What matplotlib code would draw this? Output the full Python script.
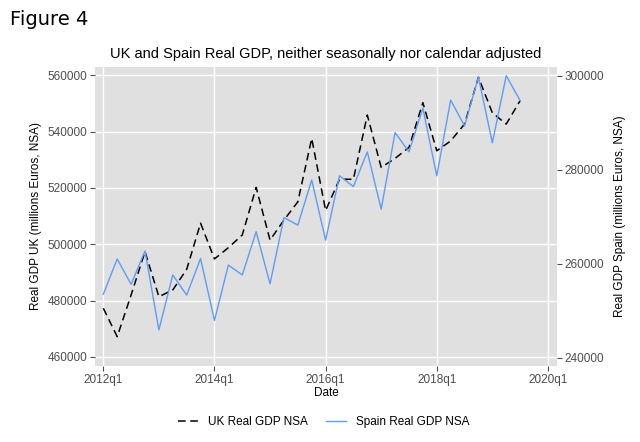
import matplotlib as mpl
import matplotlib.pyplot as plt
import numpy as np

# quarterly data 2012q1 .. 2019q3
start_year = 2012
uk_gdp = [477300, 467200, 482000, 497400, 481400, 483800, 491100, 507500,
          494800, 498800, 503300, 520200, 501500, 508600, 515100, 537600,
          512000, 523100, 523100, 545900, 527300, 530500, 534400, 550300,
          533200, 536700, 542700, 559300, 546700, 542700, 551000]
spain_gdp = [253500, 261000, 255600, 262700, 245900, 257600, 253300, 261100,
             247900, 259700, 257600, 266800, 255700, 269800, 268200, 277800,
             265000, 278700, 276400, 283800, 271600, 287900, 283800, 293100,
             278700, 294800, 289300, 299700, 285700, 300000, 294700]
x_ticks = [2012, 2014, 2016, 2018, 2020]
x_labels = ['2012q1', '2014q1', '2016q1', '2018q1', '2020q1']
uk_ticks = [460000, 480000, 500000, 520000, 540000, 560000]
spain_ticks = [240000, 260000, 280000, 300000]

mpl.rcParams['font.family'] = ['Liberation Sans', 'DejaVu Sans']

TICK_COLOR = '#4d4d4d'
PANEL = '#e0e0e0'
BLUE = '#5f9cf6'

dates = start_year + np.arange(len(uk_gdp)) / 4.0

fig = plt.figure(figsize=(6.4, 4.42), dpi=100)
ax1 = fig.add_axes([0.1484, 0.172, 0.7216, 0.677])
ax2 = ax1.twinx()

ax1.set_facecolor(PANEL)
for s in ax1.spines.values():
    s.set_visible(False)
for s in ax2.spines.values():
    s.set_visible(False)

ax1.grid(True, color='white', linewidth=1.0)
ax1.set_axisbelow(True)

l1, = ax1.plot(dates, uk_gdp, color='black', linestyle=(0, (5, 3)), linewidth=1.1,
               label='UK Real GDP NSA')
l2, = ax2.plot(dates, spain_gdp, color=BLUE, linewidth=1.0, label='Spain Real GDP NSA')

ax1.set_xlim(2012 - 0.15, 2020 + 0.16)
ax1.set_ylim(456800, 563050)
ax2.set_ylim(238230, 301900)

ax1.set_xticks(x_ticks)
ax1.set_xticklabels(x_labels)
ax1.set_yticks(uk_ticks)
ax1.set_yticklabels([str(v) for v in uk_ticks])
ax2.set_yticks(spain_ticks)
ax2.set_yticklabels([str(v) for v in spain_ticks])

for ax in (ax1, ax2):
    ax.tick_params(axis='both', colors=TICK_COLOR, labelsize=8.5, length=3.5,
                   width=0.8, pad=2, labelcolor=TICK_COLOR)

ax1.set_xlabel('Date', fontsize=8.5, labelpad=1)
ax1.set_ylabel('Real GDP UK (millions Euros, NSA)', fontsize=8.5, labelpad=4)
ax2.set_ylabel('Real GDP Spain (millions Euros, NSA)', fontsize=8.5, labelpad=7)

ax1.set_title('UK and Spain Real GDP, neither seasonally nor calendar adjusted',
              fontsize=10.5, pad=6)
fig.text(0.016, 0.955, 'Figure 4', fontsize=14, family='DejaVu Sans',
         va='center', ha='left')

fig.legend(handles=[l1, l2], loc='center', bbox_to_anchor=(0.506, 0.046),
           ncol=2, frameon=False, fontsize=8.5, handlelength=1.7,
           columnspacing=1.5, handletextpad=0.85)

plt.savefig('out.png', dpi=100)
